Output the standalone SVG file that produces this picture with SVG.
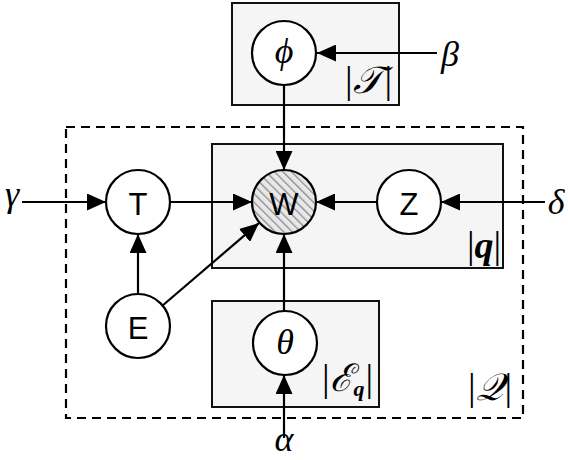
<svg xmlns="http://www.w3.org/2000/svg" width="568" height="460" viewBox="0 0 568 460">
<defs>
<pattern id="hatch" patternUnits="userSpaceOnUse" width="6" height="6" patternTransform="rotate(-45)">
<rect width="6" height="6" fill="#e8e8e8"/>
<line x1="0" y1="0" x2="0" y2="6" stroke="#8a8a8a" stroke-width="2.5"/>
</pattern>
<marker id="arr" markerWidth="19" markerHeight="17" refX="19" refY="8.5" orient="auto" markerUnits="userSpaceOnUse">
<path d="M0,0 L19,8.5 L0,17 Z" fill="#000"/>
</marker>
</defs>
<style>
.plate{fill:#f5f5f5;stroke:#111;stroke-width:2}
.node{fill:#fff;stroke:#000;stroke-width:2.2}
.lat{font-family:"Liberation Sans",Arial,sans-serif;font-size:31px;text-anchor:middle;dominant-baseline:central}
.gr{font-family:"Liberation Serif","DejaVu Serif",serif;font-style:italic;font-size:36px;text-anchor:middle}
.pl{font-family:"Liberation Serif","DejaVu Serif",serif;font-size:38px}
.edge{stroke:#000;stroke-width:2.2;fill:none;marker-end:url(#arr)}
</style>
<rect width="568" height="460" fill="#fff"/>
<g id="plate-Q"><rect x="66" y="127" width="457" height="291" fill="none" stroke="#000" stroke-width="2.2" stroke-dasharray="9,6"/>
<text class="pl" x="468" y="400">|<tspan font-style="italic">𝒬</tspan><tspan dx="2">|</tspan></text></g>
<g id="plate-T"><rect class="plate" x="232" y="3" width="167" height="102"/>
<text class="pl" x="345" y="93">|<tspan font-style="italic">𝒯</tspan><tspan dx="3">|</tspan></text></g>
<g id="plate-q"><rect class="plate" x="212" y="144" width="291" height="124"/>
<text class="pl" x="467" y="258">|<tspan font-style="italic" font-weight="bold">q</tspan>|</text></g>
<g id="plate-E"><rect class="plate" x="212" y="301" width="167" height="106"/>
<text class="pl" x="322" y="391">|<tspan font-style="italic">ℰ</tspan><tspan font-style="italic" font-weight="bold" font-size="22" dy="5" dx="1">q</tspan><tspan dy="-5" dx="1">|</tspan></text></g>
<g id="connectors">
<line class="edge" x1="437" y1="53" x2="317" y2="53"/>
<line class="edge" x1="284" y1="85" x2="284" y2="170"/>
<line class="edge" x1="22" y1="202" x2="106" y2="202"/>
<line class="edge" x1="170" y1="202" x2="252" y2="202"/>
<line class="edge" x1="377" y1="202" x2="316" y2="202"/>
<line class="edge" x1="545" y1="202" x2="441" y2="202"/>
<line class="edge" x1="138" y1="294" x2="138" y2="234"/>
<line class="edge" x1="162" y1="306" x2="259" y2="223"/>
<line class="edge" x1="284" y1="311" x2="284" y2="234"/>
<line class="edge" x1="284" y1="438" x2="284" y2="375"/>
</g>
<g id="node-phi"><circle class="node" cx="284" cy="53" r="32"/><text class="gr" x="284" y="63" font-size="31">ϕ</text></g>
<g id="node-W"><circle cx="284" cy="202" r="32" fill="url(#hatch)" stroke="#000" stroke-width="2.2"/><text class="lat" x="284" y="204">W</text></g>
<g id="node-T"><circle class="node" cx="138" cy="202" r="32"/><text class="lat" x="138" y="204">T</text></g>
<g id="node-Z"><circle class="node" cx="409" cy="202" r="32"/><text class="lat" x="409" y="204">Z</text></g>
<g id="node-E"><circle class="node" cx="138" cy="326" r="32"/><text class="lat" x="138" y="328">E</text></g>
<g id="node-theta"><circle class="node" cx="285" cy="343" r="32"/><text class="gr" x="285" y="354" font-size="31">θ</text></g>
<g id="label-beta"><text class="gr" x="450" y="66" font-size="34">β</text></g>
<g id="label-gamma"><text class="gr" x="12" y="206" font-size="38">γ</text></g>
<g id="label-delta"><text class="gr" x="556" y="214" font-size="32">δ</text></g>
<g id="label-alpha"><text class="gr" x="284" y="451" font-size="40">α</text></g>
</svg>
